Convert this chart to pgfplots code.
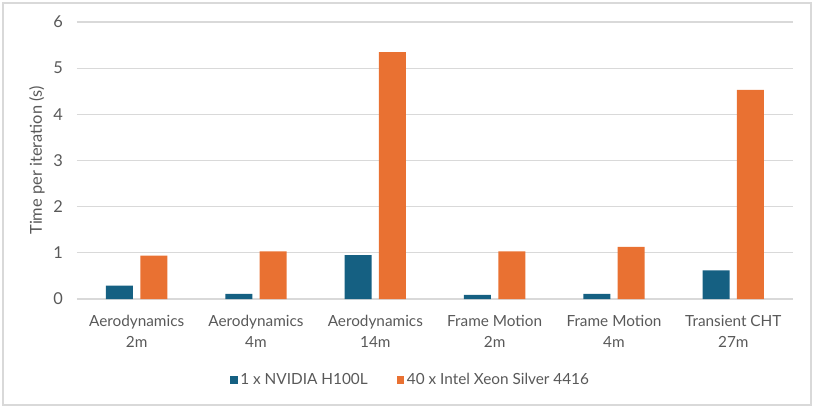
\documentclass[border=0pt]{standalone}
\usepackage{pgfplots}
\pgfplotsset{compat=1.18}
\usepackage{fontspec}
\setmainfont{Lato}
\definecolor{cblue}{HTML}{156082}
\definecolor{corange}{HTML}{E97132}
\definecolor{ctext}{HTML}{595959}
\definecolor{cgrid}{HTML}{D9D9D9}
\begin{document}
\begin{tikzpicture}
\useasboundingbox (-57.75pt,-81.75pt) rectangle (552.75pt,224.25pt);
\draw[cgrid, line width=1.2pt] (-55.5pt,-79.5pt) rectangle (550.5pt,222pt);
\begin{axis}[
  scale only axis,
  width=537pt, height=207.75pt,
  ybar=5.5pt, bar width=20.25pt,
  xmin=-0.5, xmax=5.5,
  ymin=0, ymax=6,
  ytick={0,1,...,6},
  xtick=data,
  xticklabels={{Aerodynamics\\2m},{Aerodynamics\\4m},{Aerodynamics\\14m},{Frame Motion\\2m},{Frame Motion\\4m},{Transient CHT\\27m}},
  axis line style={draw=none},
  axis x line*=bottom,
  axis y line*=left,
  major tick length=0pt,
  ymajorgrids, grid style={cgrid, line width=0.9pt},
  font=\fontsize{11.5}{15.75}\selectfont,
  tick label style={text=ctext},
  /pgf/number format/assume math mode=true,
  yticklabel style={xshift=-7pt, font=\fontsize{12.3}{15}\selectfont},
  xticklabel style={align=center, yshift=-8.5pt},
  ylabel={Time per iteration (s)},
  every axis y label/.style={at={([xshift=-30pt]axis description cs:0,0.5)}, rotate=90, anchor=center, text=ctext, font=\fontsize{12.3}{15}\selectfont},
  legend columns=2,
  legend style={draw=none, at={(axis description cs:0.4665,-0.292)}, anchor=center, text=ctext,
    /tikz/every even column/.append style={column sep=20pt}},
  legend image code/.code={\fill[#1,draw=none] (0pt,-2.9pt) rectangle (5.5pt,2.6pt);},
  clip=false,
]
\draw[cgrid, line width=0.9pt] (axis cs:-0.5,0) -- (axis cs:5.5,0);
\addplot[fill=cblue, draw=none] coordinates {(0,0.29) (1,0.11) (2,0.95) (3,0.09) (4,0.11) (5,0.62)};
\addplot[fill=corange, draw=none] coordinates {(0,0.94) (1,1.03) (2,5.35) (3,1.03) (4,1.13) (5,4.53)};
\legend{1 x NVIDIA H100L, 40 x Intel Xeon Silver 4416}
\end{axis}
\end{tikzpicture}
\end{document}
